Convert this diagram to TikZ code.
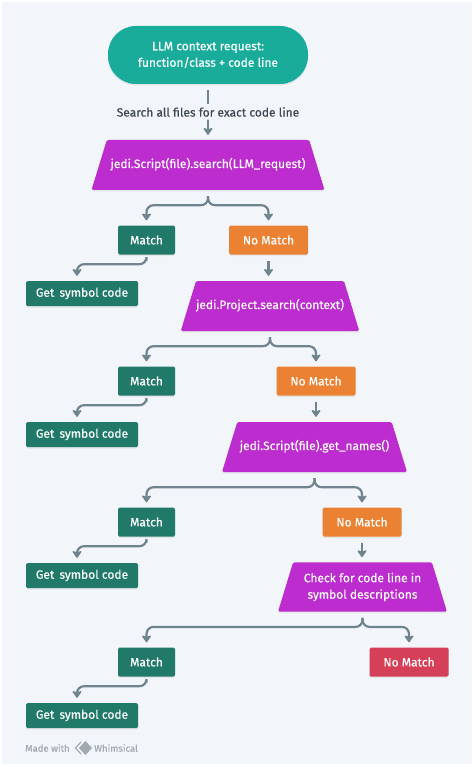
\documentclass[tikz,border=0pt]{standalone}
\usepackage{fontspec}
\setmainfont{Fira Sans}[FakeBold=0.4]
\usetikzlibrary{arrows.meta,shapes.geometric,shadows}
\definecolor{flowPage}{HTML}{F2F5F9}
\definecolor{flowInk}{HTML}{3C4650}
\definecolor{flowLine}{HTML}{70848F}
\definecolor{flowTeal}{HTML}{1AAC9B}
\definecolor{flowPurple}{HTML}{BC2CCF}
\definecolor{flowGreen}{HTML}{217A69}
\definecolor{flowOrange}{HTML}{EB8233}
\definecolor{flowRed}{HTML}{D63F58}
\definecolor{flowGray}{HTML}{A3A9B0}
\tikzset{
  every picture/.style={font=\fontsize{12pt}{16.5pt}\selectfont, text=white},
  flow soft/.style={drop shadow={shadow xshift=0pt,shadow yshift=-1.5pt,opacity=0.12}},
  flow start/.style={rectangle, rounded corners=28pt, fill=flowTeal, flow soft, align=center,
    minimum width=200pt, minimum height=58pt, inner sep=0pt},
  flow query/.style={trapezium, trapezium stretches body=true, trapezium left angle=73,
    trapezium right angle=73, fill=flowPurple, flow soft, align=center,
    rounded corners=1.5pt, inner xsep=0pt, inner ysep=19pt, text height=9pt, text depth=3pt},
  flow box/.style={rectangle, rounded corners=1.5pt, flow soft, align=center,
    minimum height=29pt, inner sep=0pt},
  flow match/.style={flow box, fill=flowGreen, minimum width=57pt},
  flow none/.style={flow box, fill=flowOrange, minimum width=79pt},
  flow get/.style={flow box, fill=flowGreen, minimum width=112pt, minimum height=25pt},
  flow arrow/.style={-{Stealth[length=8pt,width=11pt,inset=2pt,round]},
    draw=flowLine, line width=2.2pt, rounded corners=7pt, shorten <=6pt, shorten >=5pt},
  flow mark/.style={text=flowGray, font=\fontsize{9.5pt}{11pt}\selectfont, inner sep=0pt}
}
\begin{document}
\begin{tikzpicture}[x=1pt,y=-1pt]
  \fill[white] (0,0) rectangle (474,767);
  \fill[flowPage] (2,2) rectangle (472,764);
  \useasboundingbox (0,0) rectangle (474,767);
  % top of the flow
  \node[flow start] (start) at (208,55) {LLM context request:\\function/class + code line};
  \node[flow query,minimum width=233pt] (query1) at (208,165) {jedi.Script(file).search(LLM\_request)};
  \draw[flow arrow] (start) -- node[fill=flowPage,text=flowInk,inner xsep=0pt,inner ysep=3pt] (search) {Search all files for exact code line} (query1);
  % one query per row
  \node[flow query,minimum width=176pt] (query2) at (270,306) {jedi.Project.search(context)};
  \node[flow query,minimum width=185pt] (query3) at (314.5,447) {jedi.Script(file).get\_names()};
  \node[flow query,minimum width=169pt,text height=,text depth=,inner ysep=10.5pt] (query4) at (362.5,587) {Check for code line in\\symbol descriptions};
  \node[flow none] (none1) at (268.5,240) {No Match};
  \node[flow none] (none2) at (316,381) {No Match};
  \node[flow none] (none3) at (362,522) {No Match};
  \node[flow none,fill=flowRed] (none4) at (409,662) {No Match};
  \foreach \i/\y in {1/240,2/381,3/522,4/662}{
    \node[flow match] (match\i) at (146.5,\y) {Match};
    \node[flow get] (get\i) at (82,\y+53.5) {Get\, symbol code};
    \draw[flow arrow] (query\i.south) -- ++(0,15) -| (match\i.north);
    \draw[flow arrow] (query\i.south) -- ++(0,15) -| (none\i.north);
    \draw[flow arrow] (match\i.south) -- ++(0,9.5) -| ([xshift=-5pt]get\i.north);
  }
  \foreach \i/\j in {1/2,2/3,3/4}{
    \draw[flow arrow] (none\i.south) -- (none\i.south |- query\j.north);
  }
  % footer
  \node[flow mark,anchor=west] (made) at (25,748) {Made with};
  \node[flow mark,anchor=west] (whim) at (94,748) {Whimsical};
  \draw[flowGray,line width=1.2pt] (81,742) -- (75.5,748) -- (81,754);
  \fill[flowGray] (85.5,741) -- (92,748) -- (85.5,755) -- (79,748) -- cycle;
\end{tikzpicture}
\end{document}
